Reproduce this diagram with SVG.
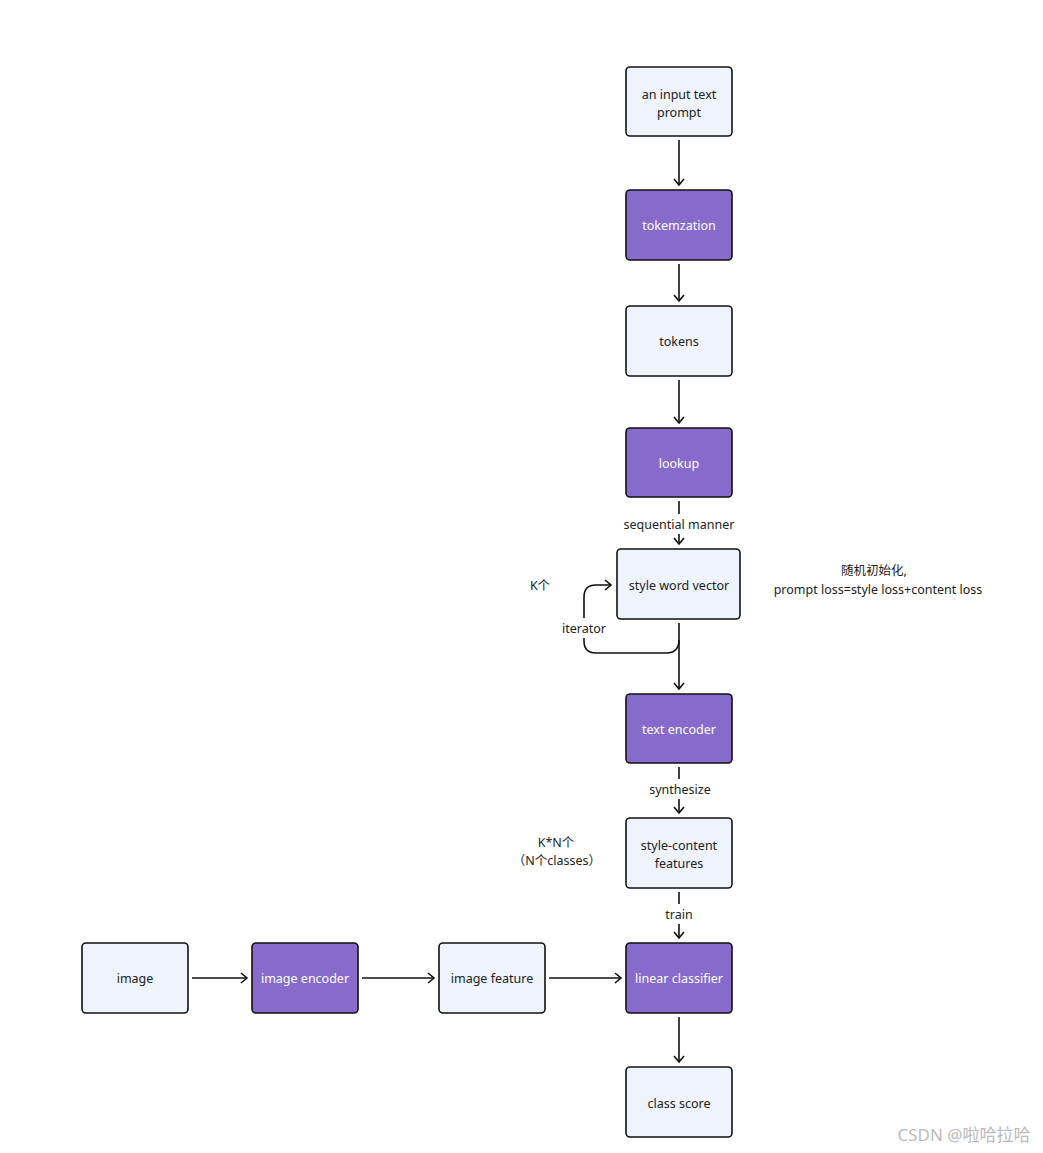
<svg xmlns="http://www.w3.org/2000/svg" width="1043" height="1153" viewBox="0 0 1043 1153">
<style>
text{font-family:"Noto Sans","Noto Sans CJK SC",sans-serif;font-size:12.5px;fill:#222;text-anchor:middle}
.l{fill:#EEF3FC;stroke:#111;stroke-width:1.6}
.p{fill:#866BCC;stroke:#111;stroke-width:1.6}
.p+text{fill:#fff}
.e{fill:none;stroke:#111;stroke-width:1.6}
</style>
<defs><marker id="a" markerWidth="12" markerHeight="12" refX="10" refY="6" orient="auto" markerUnits="userSpaceOnUse"><path d="M4,1 L10,6 L4,11" fill="none" stroke="#111" stroke-width="1.6"/></marker></defs>
<rect width="1043" height="1153" fill="#fff"/>
<g id="connectors">
<path class="e" d="M679,140 V185" marker-end="url(#a)"/>
<path class="e" d="M679,264 V301" marker-end="url(#a)"/>
<path class="e" d="M679,380 V423" marker-end="url(#a)"/>
<path class="e" d="M679,501 V544" marker-end="url(#a)"/>
<path class="e" d="M679,623 V689" marker-end="url(#a)"/>
<path class="e" d="M679,640 Q679,653 666,653 H596 Q584,653 584,641 V597 Q584,585 596,585 H611" marker-end="url(#a)"/>
<path class="e" d="M679,767 V813" marker-end="url(#a)"/>
<path class="e" d="M679,892 V938" marker-end="url(#a)"/>
<path class="e" d="M679,1017 V1062" marker-end="url(#a)"/>
<path class="e" d="M192,978 H247" marker-end="url(#a)"/>
<path class="e" d="M362,978 H434" marker-end="url(#a)"/>
<path class="e" d="M549,978 H621" marker-end="url(#a)"/>
<rect x="620" y="514" width="118" height="20" fill="#fff"/><text x="679" y="529">sequential manner</text>
<rect x="558" y="618" width="52" height="20" fill="#fff"/><text x="584" y="633">iterator</text>
<rect x="645" y="779" width="70" height="20" fill="#fff"/><text x="680" y="794">synthesize</text>
<rect x="660" y="904" width="38" height="20" fill="#fff"/><text x="679" y="919">train</text>
</g>
<g id="n1"><rect class="l" x="626" y="67" width="106" height="69" rx="4"/><text x="679" y="99">an input text</text><text x="679" y="117">prompt</text></g>
<g id="n2"><rect class="p" x="626" y="190" width="106" height="70" rx="4"/><text x="679" y="230" fill="#fff" style="fill:#fff">tokemzation</text></g>
<g id="n3"><rect class="l" x="626" y="306" width="106" height="70" rx="4"/><text x="679" y="346">tokens</text></g>
<g id="n4"><rect class="p" x="626" y="428" width="106" height="69" rx="4"/><text x="679" y="468" style="fill:#fff">lookup</text></g>
<g id="n5"><rect class="l" x="617" y="549" width="123" height="70" rx="4"/><text x="679" y="590">style word vector</text></g>
<g id="n6"><rect class="p" x="626" y="694" width="106" height="69" rx="4"/><text x="679" y="734" style="fill:#fff">text encoder</text></g>
<g id="n7"><rect class="l" x="626" y="818" width="106" height="70" rx="4"/><text x="679" y="850">style-content</text><text x="679" y="868">features</text></g>
<g id="n8"><rect class="p" x="626" y="943" width="106" height="70" rx="4"/><text x="679" y="983" style="fill:#fff">linear classifier</text></g>
<g id="n9"><rect class="l" x="626" y="1067" width="106" height="70" rx="4"/><text x="679" y="1108">class score</text></g>
<g id="n10"><rect class="l" x="82" y="943" width="106" height="70" rx="4"/><text x="135" y="983">image</text></g>
<g id="n11"><rect class="p" x="252" y="943" width="106" height="70" rx="4"/><text x="305" y="983" style="fill:#fff">image encoder</text></g>
<g id="n12"><rect class="l" x="439" y="943" width="106" height="70" rx="4"/><text x="492" y="983">image feature</text></g>
<g id="notes">
<text x="540" y="590">K个</text>
<text x="874" y="575">随机初始化,</text>
<text x="878" y="594">prompt loss=style loss+content loss</text>
<text x="556" y="847">K*N个</text>
<text x="557" y="865">（N个classes）</text>
<text x="964" y="1141" style="font-size:17px;fill:#bbb">CSDN @啦哈拉哈</text>
</g>
</svg>
